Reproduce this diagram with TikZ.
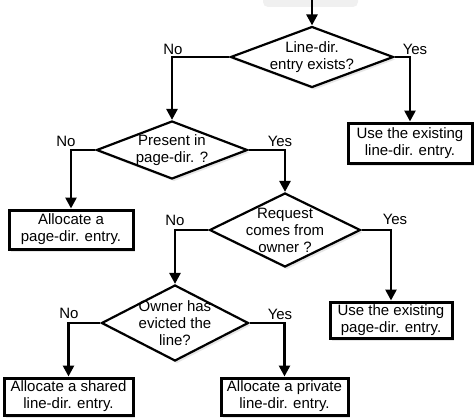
\documentclass[tikz,border=0pt]{standalone}
\usepackage{fontspec}
\setmainfont{Liberation Sans}
\usetikzlibrary{arrows.meta,shapes.geometric,shadows}

\begin{document}
\begin{tikzpicture}[
  x=1pt,y=-1pt,
  font=\fontsize{15}{17}\selectfont,
  softshadow/.style={drop shadow={opacity=0.2, shadow xshift=2pt, shadow yshift=-2.5pt}},
  decision/.style={diamond, draw=black, line width=2.2pt, fill=white, inner sep=0pt, softshadow},
  dtext/.style={align=center, inner sep=0pt},
  action/.style={rectangle, draw=black, line width=3pt, fill=white, align=center, inner sep=0pt, softshadow},
  flow/.style={line width=2.6pt, -{Triangle[length=11pt,width=11pt]}},
  branch/.style={inner sep=0pt}
]
\useasboundingbox (0,0) rectangle (474,420);

% Faint shadow of the step above (cut off).
\fill[black!6, rounded corners=5pt] (263,-8) rectangle (358,7);
\coordinate (start) at (312,0);

% ----------------------------- Decisions -----------------------------
\node[decision, minimum width=163pt, minimum height=61pt,
  label={[dtext]center:{Line-dir.\\entry exists?}}] (linedir) at (312,57) {};
\node[decision, minimum width=151pt, minimum height=58pt,
  label={[dtext]center:{Present in\\page-dir. ?}}] (pagedir) at (172,150) {};
\node[decision, minimum width=151pt, minimum height=74pt,
  label={[dtext]center:{Request\\comes from\\owner ?}}] (owner) at (285,230) {};
\node[decision, minimum width=147pt, minimum height=76pt,
  label={[dtext]center:{Owner has\\evicted the\\line?}}] (evicted) at (175,323) {};

% ----------------------------- Actions -----------------------------
\node[action, minimum width=124pt, minimum height=40pt] (uselinedir) at (410,143)
  {Use the existing\\line-dir. entry.};
\node[action, minimum width=124pt, minimum height=39pt] (allocpage) at (71,229.5)
  {Allocate a\\page-dir. entry.};
\node[action, minimum width=122pt, minimum height=36pt] (usepagedir) at (391,320)
  {Use the existing\\page-dir. entry.};
\node[action, minimum width=129pt, minimum height=37pt] (allocshared) at (68.5,396.5)
  {Allocate a shared\\line-dir. entry.};
\node[action, minimum width=127pt, minimum height=37pt] (allocprivate) at (284.5,396.5)
  {Allocate a private\\line-dir. entry.};

% ----------------------------- Connectors -----------------------------
\draw[flow] (start) -- (linedir.north);
\draw[flow] (linedir.west) -| (pagedir.north);
\draw[flow] (linedir.east) -| (uselinedir.north);
\draw[flow] (pagedir.west) -| (allocpage.north);
\draw[flow] (pagedir.east) -| (owner.north);
\draw[flow] (owner.west) -| (evicted.north);
\draw[flow] (owner.east) -| (usepagedir.north);
\draw[flow] (evicted.west) -| (allocshared.north);
\draw[flow] (evicted.east) -| (allocprivate.north);

% Branch labels.
\node[branch] (no1) at (173,49) {No};
\node[branch] (yes1) at (415,49) {Yes};
\node[branch] (no2) at (66,141) {No};
\node[branch] (yes2) at (280,141) {Yes};
\node[branch] (no3) at (175,220) {No};
\node[branch] (yes3) at (395,219) {Yes};
\node[branch] (no4) at (69,313) {No};
\node[branch] (yes4) at (280,314) {Yes};
\end{tikzpicture}
\end{document}
